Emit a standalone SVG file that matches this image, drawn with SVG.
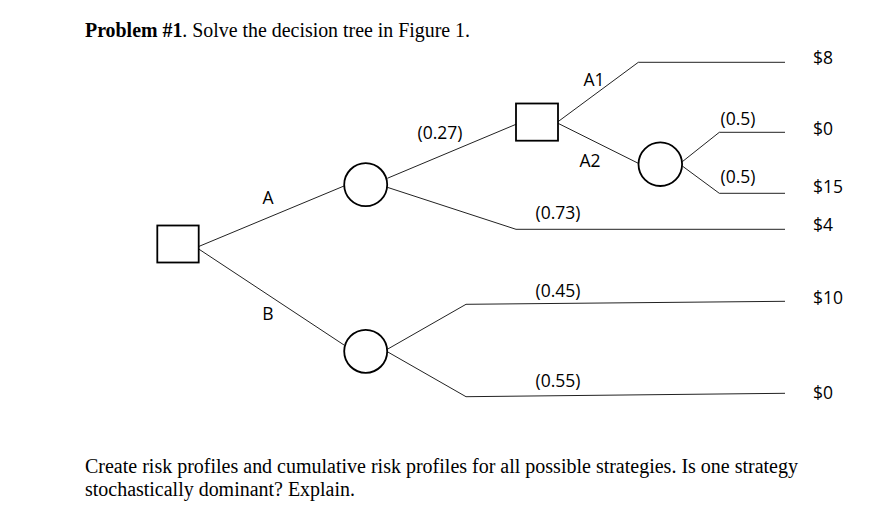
<svg xmlns="http://www.w3.org/2000/svg" width="877" height="526" viewBox="0 0 877 526">
<style>
.bg{fill:#ffffff}
.node{fill:#ffffff;stroke:#000000;stroke-width:1.8}
.edge{fill:none;stroke:#222222;stroke-width:1}
.lbl{font-family:"Open Sans","Liberation Sans",sans-serif;font-size:17.5px;fill:#000000}
.txt{font-family:"Liberation Serif","Times New Roman",serif;font-size:20px;fill:#000000}
.b{font-weight:bold}
</style>
<rect class="bg" x="0" y="0" width="877" height="526"/>
<text class="txt" x="85" y="37" textLength="385" lengthAdjust="spacingAndGlyphs"><tspan class="b">Problem #1</tspan>. Solve the decision tree in Figure 1.</text>
<g id="connectors">
<polyline class="edge" points="198.7,246.5 344,186"/>
<polyline class="edge" points="198.7,249 344,345"/>
<polyline class="edge" points="387.3,178.3 516,124.3"/>
<polyline class="edge" points="387.3,187.3 516,229.3 785,229.3"/>
<polyline class="edge" points="558,121.7 638.3,62.3 785,62.3"/>
<polyline class="edge" points="558,123.3 638.3,163.3"/>
<polyline class="edge" points="682.3,161.7 719.3,132.3 785,132.3"/>
<polyline class="edge" points="682.3,166 719.3,193.3 785,193.3"/>
<polyline class="edge" points="387.3,349.3 466,304.3 785,301.3"/>
<polyline class="edge" points="387.3,351.7 466,396.7 785,393.3"/>
</g>
<g id="decision-root"><rect class="node" x="157.3" y="225.5" width="41.4" height="37"/></g>
<g id="chance-A"><circle class="node" cx="365.7" cy="184.7" r="21.5"/></g>
<g id="chance-B"><circle class="node" cx="365.7" cy="351.3" r="21.5"/></g>
<g id="decision-A"><rect class="node" x="516" y="103.5" width="42" height="37.2"/></g>
<g id="chance-A2"><circle class="node" cx="660.3" cy="164.2" r="21.8"/></g>
<g id="labels">
<text class="lbl" x="268" y="204" text-anchor="middle">A</text>
<text class="lbl" x="268" y="320" text-anchor="middle">B</text>
<text class="lbl" x="440" y="139" text-anchor="middle">(0.27)</text>
<text class="lbl" x="594" y="86" text-anchor="middle">A1</text>
<text class="lbl" x="590" y="167" text-anchor="middle">A2</text>
<text class="lbl" x="738" y="125" text-anchor="middle">(0.5)</text>
<text class="lbl" x="738" y="183" text-anchor="middle">(0.5)</text>
<text class="lbl" x="558" y="219" text-anchor="middle">(0.73)</text>
<text class="lbl" x="558" y="297" text-anchor="middle">(0.45)</text>
<text class="lbl" x="558" y="387" text-anchor="middle">(0.55)</text>
<text class="lbl" x="813" y="64">$8</text>
<text class="lbl" x="813" y="135">$0</text>
<text class="lbl" x="813" y="193">$15</text>
<text class="lbl" x="813" y="231">$4</text>
<text class="lbl" x="813" y="304">$10</text>
<text class="lbl" x="813" y="399">$0</text>
</g>
<text class="txt" x="85" y="473" textLength="713" lengthAdjust="spacingAndGlyphs">Create risk profiles and cumulative risk profiles for all possible strategies. Is one strategy</text>
<text class="txt" x="85" y="496" textLength="270" lengthAdjust="spacingAndGlyphs">stochastically dominant? Explain.</text>
</svg>
